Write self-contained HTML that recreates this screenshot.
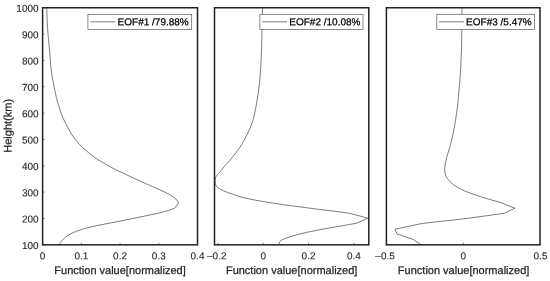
<!DOCTYPE html>
<html><head><meta charset="utf-8"><title>EOF</title><style>html,body{margin:0;padding:0;background:#fff}body{width:550px;height:281px;overflow:hidden}</style></head><body>
<svg width="550" height="281" viewBox="0 0 550 281" style="display:block">
<rect width="550" height="281" fill="#fff"/>
<g font-family="'Liberation Sans', Arial, Helvetica, sans-serif">
<polyline points="46.7,7.8 46.9,13.1 47.1,18.3 47.3,23.6 47.6,28.8 48.0,34.1 48.5,39.4 49.0,44.6 49.5,49.9 49.9,55.1 50.3,60.4 50.7,65.7 51.3,70.9 52.1,76.2 53.0,81.4 54.1,86.7 55.2,92.0 56.3,97.2 57.7,102.5 59.3,107.7 61.1,113.0 63.2,118.3 65.7,123.5 68.5,128.8 71.4,134.0 73.2,136.6 75.1,139.3 77.3,141.9 79.6,144.5 82.2,147.1 85.1,149.8 88.3,152.4 91.6,155.0 95.0,157.7 99.0,160.3 103.5,162.9 108.1,165.6 112.8,168.2 117.9,170.8 123.6,173.4 129.3,176.1 134.8,178.7 140.7,181.3 146.7,184.0 152.6,186.6 158.4,189.2 164.4,191.9 169.4,194.5 173.3,197.1 176.6,199.7 178.4,202.4 178.6,202.9 174.6,208.2 168.6,210.4 158.5,213.2 146.8,215.6 134.5,218.2 120.0,221.1 107.0,223.6 95.0,226.0 84.3,228.6 76.5,231.3 72.0,233.2 68.0,235.4 64.8,237.8 62.0,240.6 60.4,242.8 59.5,244.8" fill="none" stroke="#4a4a4a" stroke-width="0.72" stroke-linejoin="round"/>
<path d="M42.6,244.80h2.0M42.6,218.46h2.0M42.6,192.12h2.0M42.6,165.78h2.0M42.6,139.44h2.0M42.6,113.11h2.0M42.6,86.77h2.0M42.6,60.43h2.0M42.6,34.09h2.0M42.6,7.75h2.0M42.60,244.8v-2.0M81.33,244.8v-2.0M120.05,244.8v-2.0M158.77,244.8v-2.0M197.50,244.8v-2.0" stroke="#333" stroke-width="0.6" fill="none"/>
<rect x="42.6" y="7.75" width="154.9" height="237.1" fill="none" stroke="#222" stroke-width="1.5"/>
<rect x="87.9" y="14.3" width="103.8" height="15.1" fill="#fff" stroke="#5a5a5a" stroke-width="0.7"/>
<line x1="90.5" y1="21.8" x2="115.6" y2="21.8" stroke="#4a4a4a" stroke-width="0.72"/>
<text transform="translate(117.60,25.30) matrix(1,0.0005,0,1,0,0)" font-size="10" fill="#000" stroke="#000" stroke-width="0.25" text-anchor="start">EOF#1 /79.88%</text>
<text transform="translate(42.60,259.20) matrix(1,0.0005,0,1,0,0)" font-size="10" fill="#262626" stroke="#262626" stroke-width="0.12" text-anchor="middle">0</text>
<text transform="translate(81.33,259.20) matrix(1,0.0005,0,1,0,0)" font-size="10" fill="#262626" stroke="#262626" stroke-width="0.12" text-anchor="middle">0.1</text>
<text transform="translate(120.05,259.20) matrix(1,0.0005,0,1,0,0)" font-size="10" fill="#262626" stroke="#262626" stroke-width="0.12" text-anchor="middle">0.2</text>
<text transform="translate(158.77,259.20) matrix(1,0.0005,0,1,0,0)" font-size="10" fill="#262626" stroke="#262626" stroke-width="0.12" text-anchor="middle">0.3</text>
<text transform="translate(197.50,259.20) matrix(1,0.0005,0,1,0,0)" font-size="10" fill="#262626" stroke="#262626" stroke-width="0.12" text-anchor="middle">0.4</text>
<text transform="translate(120.05,274.00) matrix(1,0.0005,0,1,0,0)" font-size="11" fill="#262626" stroke="#262626" stroke-width="0.25" text-anchor="middle">Function value[normalized]</text>
<polyline points="262.6,7.8 262.4,13.1 262.3,18.3 262.2,23.6 262.0,28.8 261.9,34.1 261.8,39.4 261.7,44.6 261.5,49.9 261.3,55.1 261.1,60.4 260.8,65.7 260.4,70.9 260.1,76.2 259.6,81.4 259.0,86.7 258.4,92.0 257.6,97.2 256.7,102.5 255.8,107.7 254.7,113.0 253.5,118.3 251.9,123.5 249.8,128.8 247.3,134.0 244.6,139.3 241.7,144.6 238.2,149.8 234.1,155.1 229.9,160.3 225.0,165.6 220.7,171.0 217.5,174.5 215.7,177.0 214.9,180.0 215.3,183.6 216.4,186.3 219.1,188.5 222.9,190.6 228.4,192.8 233.8,194.5 240.0,196.8 250.9,199.3 261.8,201.3 272.7,203.1 280.0,204.2 300.0,206.9 320.0,209.5 335.0,211.3 349.3,213.2 367.9,218.2 356.6,223.2 340.0,226.2 326.7,228.4 308.2,232.0 297.3,234.6 289.6,236.9 284.2,238.8 281.5,240.0 279.8,241.8 278.7,244.8" fill="none" stroke="#4a4a4a" stroke-width="0.72" stroke-linejoin="round"/>
<path d="M217.85,244.8v-2.0M263.20,244.8v-2.0M308.55,244.8v-2.0M353.90,244.8v-2.0" stroke="#333" stroke-width="0.6" fill="none"/>
<rect x="214.5" y="7.75" width="154.3" height="237.1" fill="none" stroke="#222" stroke-width="1.5"/>
<rect x="259.9" y="14.3" width="103.1" height="15.1" fill="#fff" stroke="#5a5a5a" stroke-width="0.7"/>
<line x1="262.3" y1="21.8" x2="287.2" y2="21.8" stroke="#4a4a4a" stroke-width="0.72"/>
<text transform="translate(289.30,25.30) matrix(1,0.0005,0,1,0,0)" font-size="10" fill="#000" stroke="#000" stroke-width="0.25" text-anchor="start">EOF#2 /10.08%</text>
<text transform="translate(216.75,259.20) matrix(1,0.0005,0,1,0,0)" font-size="10" fill="#262626" stroke="#262626" stroke-width="0.12" text-anchor="middle">–0.2</text>
<text transform="translate(263.20,259.20) matrix(1,0.0005,0,1,0,0)" font-size="10" fill="#262626" stroke="#262626" stroke-width="0.12" text-anchor="middle">0</text>
<text transform="translate(308.55,259.20) matrix(1,0.0005,0,1,0,0)" font-size="10" fill="#262626" stroke="#262626" stroke-width="0.12" text-anchor="middle">0.2</text>
<text transform="translate(353.90,259.20) matrix(1,0.0005,0,1,0,0)" font-size="10" fill="#262626" stroke="#262626" stroke-width="0.12" text-anchor="middle">0.4</text>
<text transform="translate(291.65,274.00) matrix(1,0.0005,0,1,0,0)" font-size="11" fill="#262626" stroke="#262626" stroke-width="0.25" text-anchor="middle">Function value[normalized]</text>
<polyline points="462.0,7.8 461.9,13.1 461.9,18.3 461.9,23.6 461.8,28.8 461.8,34.1 461.7,39.4 461.6,44.6 461.4,49.9 461.2,55.1 461.0,60.4 460.8,65.7 460.5,70.9 460.2,76.2 459.8,81.4 459.3,86.7 458.9,92.0 458.3,97.2 458.0,102.5 457.4,107.7 456.6,113.0 455.8,118.3 455.0,123.5 454.0,128.8 453.0,134.0 451.8,139.3 450.5,144.6 449.0,149.8 447.4,155.1 446.6,158.0 445.6,162.0 444.9,166.0 444.7,169.5 445.0,173.0 445.8,175.8 447.3,178.4 450.9,182.7 454.4,185.4 458.2,187.8 465.5,191.4 467.0,191.9 481.8,197.2 500.6,202.5 514.9,208.2 504.2,213.3 468.2,218.3 421.8,223.5 394.9,229.3 397.2,234.0 413.2,239.4 421.2,244.8" fill="none" stroke="#4a4a4a" stroke-width="0.72" stroke-linejoin="round"/>
<path d="M386.70,244.8v-2.0M463.35,244.8v-2.0M540.00,244.8v-2.0" stroke="#333" stroke-width="0.6" fill="none"/>
<rect x="386.4" y="7.75" width="153.6" height="237.1" fill="none" stroke="#222" stroke-width="1.5"/>
<rect x="436.8" y="14.3" width="97.6" height="15.1" fill="#fff" stroke="#5a5a5a" stroke-width="0.7"/>
<line x1="439.1" y1="21.8" x2="464.0" y2="21.8" stroke="#4a4a4a" stroke-width="0.72"/>
<text transform="translate(466.10,25.30) matrix(1,0.0005,0,1,0,0)" font-size="10" fill="#000" stroke="#000" stroke-width="0.25" text-anchor="start">EOF#3 /5.47%</text>
<text transform="translate(385.10,259.20) matrix(1,0.0005,0,1,0,0)" font-size="10" fill="#262626" stroke="#262626" stroke-width="0.12" text-anchor="middle">–0.5</text>
<text transform="translate(463.35,259.20) matrix(1,0.0005,0,1,0,0)" font-size="10" fill="#262626" stroke="#262626" stroke-width="0.12" text-anchor="middle">0</text>
<text transform="translate(540.50,259.20) matrix(1,0.0005,0,1,0,0)" font-size="10" fill="#262626" stroke="#262626" stroke-width="0.12" text-anchor="middle">0.5</text>
<text transform="translate(463.60,274.00) matrix(1,0.0005,0,1,0,0)" font-size="11" fill="#262626" stroke="#262626" stroke-width="0.25" text-anchor="middle">Function value[normalized]</text>
<text transform="translate(38.60,248.90) matrix(1,0.0005,0,1,0,0)" font-size="10" fill="#262626" stroke="#262626" stroke-width="0.12" text-anchor="end">100</text>
<text transform="translate(38.60,222.56) matrix(1,0.0005,0,1,0,0)" font-size="10" fill="#262626" stroke="#262626" stroke-width="0.12" text-anchor="end">200</text>
<text transform="translate(38.60,196.22) matrix(1,0.0005,0,1,0,0)" font-size="10" fill="#262626" stroke="#262626" stroke-width="0.12" text-anchor="end">300</text>
<text transform="translate(38.60,169.88) matrix(1,0.0005,0,1,0,0)" font-size="10" fill="#262626" stroke="#262626" stroke-width="0.12" text-anchor="end">400</text>
<text transform="translate(38.60,143.54) matrix(1,0.0005,0,1,0,0)" font-size="10" fill="#262626" stroke="#262626" stroke-width="0.12" text-anchor="end">500</text>
<text transform="translate(38.60,117.21) matrix(1,0.0005,0,1,0,0)" font-size="10" fill="#262626" stroke="#262626" stroke-width="0.12" text-anchor="end">600</text>
<text transform="translate(38.60,90.87) matrix(1,0.0005,0,1,0,0)" font-size="10" fill="#262626" stroke="#262626" stroke-width="0.12" text-anchor="end">700</text>
<text transform="translate(38.60,64.53) matrix(1,0.0005,0,1,0,0)" font-size="10" fill="#262626" stroke="#262626" stroke-width="0.12" text-anchor="end">800</text>
<text transform="translate(38.60,38.19) matrix(1,0.0005,0,1,0,0)" font-size="10" fill="#262626" stroke="#262626" stroke-width="0.12" text-anchor="end">900</text>
<text transform="translate(38.60,11.85) matrix(1,0.0005,0,1,0,0)" font-size="10" fill="#262626" stroke="#262626" stroke-width="0.12" text-anchor="end">1000</text>
<text transform="translate(11.6,125.8) rotate(-90) matrix(1,0.0005,0,1,0,0)" font-size="11" fill="#262626" stroke="#262626" stroke-width="0.25" text-anchor="middle">Height(km)</text>
</g></svg>
</body></html>
